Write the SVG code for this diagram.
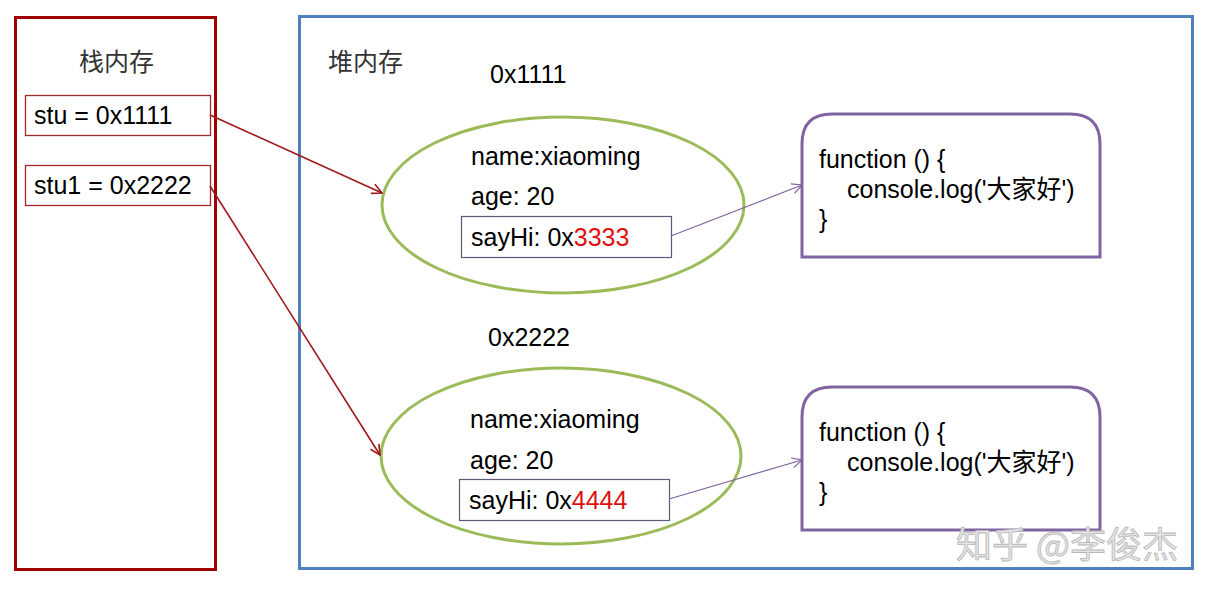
<svg xmlns="http://www.w3.org/2000/svg" width="1213" height="593" viewBox="0 0 1213 593">
<style>
text{font-family:"Liberation Sans",Arial,"Noto Sans CJK SC",sans-serif;font-size:25px;fill:#000}
.cjk{font-family:"Noto Sans CJK SC","Liberation Sans",sans-serif;font-size:25px;fill:#333}
.var{fill:#fff;stroke:#a0282a;stroke-width:1.3}
.ell{fill:none;stroke:#9bbb59;stroke-width:3}
.fld{fill:#fff;stroke:#5a5a7a;stroke-width:1.2}
.fn{fill:#fff;stroke:#8064a2;stroke-width:3}
.red{fill:#e01010}
.wm{font-family:"Noto Sans CJK SC",sans-serif;font-size:36px;fill:#e4e4e4;stroke:#b8b8b8;stroke-width:0.8}
</style>
<defs>
<marker id="ar" viewBox="0 0 12 12" refX="11" refY="6" markerWidth="12" markerHeight="12" markerUnits="userSpaceOnUse" orient="auto">
<path d="M1,1 L11,6 L1,11" fill="none" stroke="#a01818" stroke-width="1.6"/>
</marker>
<marker id="ap" viewBox="0 0 12 12" refX="11" refY="6" markerWidth="12" markerHeight="12" markerUnits="userSpaceOnUse" orient="auto">
<path d="M1,1 L11,6 L1,11" fill="none" stroke="#8064a2" stroke-width="1.2"/>
</marker>
</defs>
<rect width="1213" height="593" fill="#fff"/>
<g id="stack">
<rect x="15.5" y="17.5" width="200" height="552" fill="none" stroke="#a00000" stroke-width="3"/>
<text class="cjk" x="79" y="71">栈内存</text>
</g>
<g id="heap">
<rect x="299.5" y="16.5" width="893" height="552" fill="none" stroke="#4f81bd" stroke-width="3"/>
<text class="cjk" x="328" y="71">堆内存</text>
</g>
<g id="stu">
<rect class="var" x="25.5" y="95.5" width="185" height="40"/>
<text x="34" y="124">stu = 0x1111</text>
</g>
<g id="stu1">
<rect class="var" x="25.5" y="165.5" width="185" height="40"/>
<text x="34" y="194">stu1 = 0x2222</text>
</g>
<g id="obj1">
<text x="490" y="83">0x1111</text>
<ellipse class="ell" cx="563" cy="205" rx="181" ry="88"/>
<text x="471" y="165">name:xiaoming</text>
<text x="471" y="205">age: 20</text>
<rect class="fld" x="461.5" y="216.5" width="210" height="41"/>
<text x="471" y="246">sayHi: 0x<tspan class="red">3333</tspan></text>
</g>
<g id="obj2">
<text x="488" y="346">0x2222</text>
<ellipse class="ell" cx="561" cy="456" rx="180" ry="88"/>
<text x="470" y="428">name:xiaoming</text>
<text x="470" y="469">age: 20</text>
<rect class="fld" x="459.5" y="479.5" width="210" height="41"/>
<text x="469" y="509">sayHi: 0x<tspan class="red">4444</tspan></text>
</g>
<g id="fn1">
<path class="fn" d="M802,257 L802,144 Q802,114 832,114 L1070,114 Q1100,114 1100,144 L1100,257 Z"/>
<text x="819" y="168">function () {</text>
<text x="847" y="198">console.log('大家好')</text>
<text x="819" y="228">}</text>
</g>
<g id="fn2">
<path class="fn" d="M802,530 L802,417 Q802,387 832,387 L1070,387 Q1100,387 1100,417 L1100,530 Z"/>
<text x="819" y="441">function () {</text>
<text x="847" y="471">console.log('大家好')</text>
<text x="819" y="501">}</text>
</g>
<g id="connectors" fill="none">
<line x1="210" y1="115" x2="382" y2="193" stroke="#a01818" stroke-width="1.6" marker-end="url(#ar)"/>
<line x1="210" y1="186" x2="380" y2="455" stroke="#a01818" stroke-width="1.6" marker-end="url(#ar)"/>
<line x1="671" y1="236" x2="802" y2="185" stroke="#8064a2" stroke-width="1.2" marker-end="url(#ap)"/>
<line x1="669" y1="499" x2="802" y2="460" stroke="#8064a2" stroke-width="1.2" marker-end="url(#ap)"/>
</g>
<text class="wm" x="956" y="558">知乎 @李俊杰</text>
</svg>
